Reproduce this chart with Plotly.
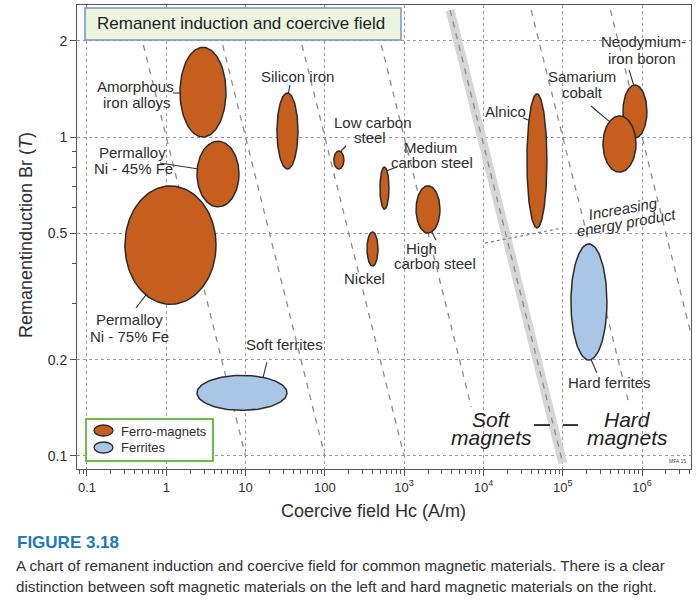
import numpy as np
import plotly.graph_objects as go

# ---------------- data ----------------
materials = ["Amorphous iron alloys", "Permalloy Ni - 45% Fe", "Permalloy Ni - 75% Fe",
             "Silicon iron", "Low carbon steel", "Medium carbon steel", "High carbon steel",
             "Nickel", "Alnico", "Neodymium-iron boron", "Samarium cobalt",
             "Hard ferrites", "Soft ferrites"]
material_class = ["ferro"] * 11 + ["ferrite", "ferrite"]
hc_low = [1.49, 2.44, 0.301, 24.9, 130, 495, 1413, 340, 35400, 575000, 322000, 127000, 2.44]
hc_high = [5.66, 8.26, 4.24, 45.8, 174, 644, 2831, 468, 63200, 1153000, 840000, 361000, 33.3]
br_low = [1.0, 0.604, 0.299, 0.794, 0.794, 0.594, 0.500, 0.394, 0.519, 0.993, 0.776, 0.200, 0.139]
br_high = [1.91, 0.970, 0.702, 1.374, 0.904, 0.805, 0.703, 0.504, 1.365, 1.455, 1.164, 0.462, 0.179]

# label lines (text, Hc, Br)
label_lines = ["Amorphous", "iron alloys", "Permalloy", "Ni - 45% Fe", "Permalloy", "Ni - 75% Fe",
               "Silicon iron", "Low carbon", "steel", "Medium", "carbon steel", "High",
               "carbon steel", "Nickel", "Alnico", "Neodymium-", "iron boron", "Samarium",
               "cobalt", "Hard ferrites", "Soft ferrites"]
label_hc = [0.415, 0.427, 0.380, 0.386, 0.344, 0.348, 45.8, 410, 371, 2181, 2244, 1679,
            2449, 316, 19240, 1.044e6, 1.014e6, 177500, 177500, 394500, 30.97]
label_br = [1.445, 1.287, 0.897, 0.799, 0.267, 0.2377, 1.553, 1.114, 1.0, 0.930, 0.829, 0.448,
            0.401, 0.359, 1.198, 1.99, 1.765, 1.553, 1.374, 0.1694, 0.2244]

# leader lines (from label to ellipse)
leader_hc_from = [1.215, 0.833, 0.415, 36.3, 184.5, 813, 2523, 31550, 227000, 686000, 270000, 18.6]
leader_br_from = [1.374, 0.829, 0.291, 1.455, 0.937, 0.805, 0.475, 1.147, 1.251, 1.622, 0.182, 0.197]
leader_hc_to = [1.55, 2.55, 0.555, 34.3, 151, 590, 2178, 39800, 383000, 793000, 227000, 16.6]
leader_br_to = [1.374, 0.794, 0.320, 1.355, 0.891, 0.782, 0.511, 1.122, 1.122, 1.445, 0.201, 0.176]

# constant energy-product lines  (Br * Hc = const)
energy_products = [1, 10, 100, 1000, 1e5, 1e6]
br_line_top = 2.5
br_line_end = [0.1, 0.1, 0.1, 0.1425, 0.144, 0.1]
band_energy = 9500
band_br = [2.5, 0.095]

increase_hc = [10470, 100000]
increase_br = [0.465, 0.519]

sep_hc = [[43400, 69000], [100700, 155600]]
sep_br = 0.125

x_tickvals = [0.1, 1, 10, 100, 1e3, 1e4, 1e5, 1e6]
x_ticktext = ["0.1", "1", "10", "100", "10<sup>3</sup>", "10<sup>4</sup>", "10<sup>5</sup>", "10<sup>6</sup>"]
y_tickvals = [0.1, 0.2, 0.5, 1, 2]
y_ticktext = ["0.1", "0.2", "0.5", "1", "2"]
y_minor = [0.3, 0.4, 0.6, 0.7, 0.8, 0.9]
x_minor = [m * 10.0 ** k for k in range(-2, 7) for m in range(2, 10)]

# ---------------- styles ----------------
FONT = "Liberation Sans, Arial, Helvetica, sans-serif"
ORANGE = "#C65F1E"
BLUE = "#AAC6E6"
EDGE = "#2b2b2b"
DASHC = "#8c8c8c"
TXT = "#2e2e2e"

fig = go.Figure()

# energy-product lines
for bh, bend in zip(energy_products, br_line_end):
    b = np.array([br_line_top, bend])
    fig.add_trace(go.Scatter(x=bh / b, y=b, mode="lines",
                             line=dict(color=DASHC, width=1.3, dash="6px,6px"),
                             hoverinfo="skip", showlegend=False))
# soft / hard separation band
bb = np.array(band_br)
fig.add_trace(go.Scatter(x=band_energy / bb, y=bb, mode="lines",
                         line=dict(color="#d6d6d6", width=9),
                         hoverinfo="skip", showlegend=False))
fig.add_trace(go.Scatter(x=band_energy / bb, y=bb, mode="lines",
                         line=dict(color="#8a8a8a", width=1.3, dash="6px,6px"),
                         hoverinfo="skip", showlegend=False))
# increasing energy product
fig.add_trace(go.Scatter(x=increase_hc, y=increase_br, mode="lines",
                         line=dict(color="#808080", width=1.2, dash="dot"),
                         hoverinfo="skip", showlegend=False))
# separators
for seg in sep_hc:
    fig.add_trace(go.Scatter(x=seg, y=[sep_br, sep_br], mode="lines",
                             line=dict(color="#333333", width=2),
                             hoverinfo="skip", showlegend=False))
# leader lines
for x0, y0, x1, y1 in zip(leader_hc_from, leader_br_from, leader_hc_to, leader_br_to):
    fig.add_trace(go.Scatter(x=[x0, x1], y=[y0, y1], mode="lines",
                             line=dict(color="#333333", width=1.1),
                             hoverinfo="skip", showlegend=False))

# ellipses
t = np.linspace(0, 2 * np.pi, 121)
for name, cls, h0, h1, b0, b1 in zip(materials, material_class, hc_low, hc_high, br_low, br_high):
    cx = (np.log10(h0) + np.log10(h1)) / 2
    rx = (np.log10(h1) - np.log10(h0)) / 2
    cy = (np.log10(b0) + np.log10(b1)) / 2
    ry = (np.log10(b1) - np.log10(b0)) / 2
    fig.add_trace(go.Scatter(x=10 ** (cx + rx * np.cos(t)), y=10 ** (cy + ry * np.sin(t)),
                             mode="lines", fill="toself",
                             fillcolor=ORANGE if cls == "ferro" else BLUE,
                             line=dict(color=EDGE, width=1.5),
                             name=name, hoverinfo="name", showlegend=False))

annotations = []
for txt, hx, by in zip(label_lines, label_hc, label_br):
    annotations.append(dict(x=np.log10(hx), y=np.log10(by), xref="x", yref="y", text=txt,
                            xanchor="center", yanchor="middle",
                            showarrow=False, font=dict(family=FONT, size=15, color=TXT)))

# increasing energy product text
for txt, hx, by in [("Increasing", 575000, 0.599), ("energy product", 646000, 0.538)]:
    annotations.append(dict(x=np.log10(hx), y=np.log10(by), xref="x", yref="y",
                            xanchor="center", yanchor="middle",
                            text="<i>" + txt + "</i>", textangle=-10, showarrow=False,
                            font=dict(family=FONT, size=15, color=TXT)))
# soft / hard magnets
for txt, hx, by in [("Soft", 12800, 0.1305), ("magnets", 12800, 0.1143),
                    ("Hard", 665000, 0.1305), ("magnets", 665000, 0.1143)]:
    annotations.append(dict(x=np.log10(hx), y=np.log10(by), xref="x", yref="y",
                            xanchor="center", yanchor="middle",
                            text="<i>" + txt + "</i>", showarrow=False,
                            font=dict(family=FONT, size=21, color="#222222")))


# paper-coordinate helpers (plot area 614 x 464 px, starting at 77, 5)
def px(x):
    return (x - 77) / 614.0


def py(y):
    return (469 - y) / 464.0


def paper_text(text, x, y, size, xanchor="left", color=TXT, angle=0, family=FONT):
    return dict(x=px(x), y=py(y), xref="paper", yref="paper", xanchor=xanchor,
                yanchor="middle", text=text, showarrow=False, textangle=angle,
                font=dict(family=family, size=size, color=color))


annotations += [
    paper_text("Remanent induction and coercive field", 95, 24, 17, color="#222222"),
    paper_text("Ferro-magnets", 119, 431, 13),
    paper_text("Ferrites", 119, 447, 13),
    paper_text("MFA 15", 688, 461, 5, xanchor="right", color="#444444"),
    paper_text("Coercive field Hc (A/m)", 373, 511, 18, xanchor="center"),
    paper_text("Remanentinduction Br (<i>T</i>)", 26, 235, 18, xanchor="center", angle=-90),
    paper_text("<b>FIGURE 3.18</b>", 15, 542, 17, color="#1a78bb"),
    paper_text("A chart of remanent induction and coercive field for common magnetic materials. "
               "There is a clear", 14, 565, 15.2, color="#333333"),
    paper_text("distinction between soft magnetic materials on the left and hard magnetic "
               "materials on the right.", 14, 586, 15.2, color="#333333"),
]

shapes = [
    dict(type="rect", xref="paper", yref="paper", x0=px(85), x1=px(401), y0=py(40), y1=py(8),
         fillcolor="#EAF4DF", line=dict(color="#7C94C8", width=1.5), layer="above"),
    dict(type="rect", xref="paper", yref="paper", x0=px(86), x1=px(213), y0=py(461), y1=py(419),
         fillcolor="white", line=dict(color="#6CBD46", width=2), layer="above"),
    dict(type="circle", xref="paper", yref="paper", x0=px(94), x1=px(113), y0=py(436), y1=py(425),
         fillcolor=ORANGE, line=dict(color=EDGE, width=1.3), layer="above"),
    dict(type="circle", xref="paper", yref="paper", x0=px(94), x1=px(113), y0=py(453), y1=py(442),
         fillcolor=BLUE, line=dict(color=EDGE, width=1.3), layer="above"),
]

fig.update_layout(
    width=700, height=611,
    margin=dict(l=77, r=9, t=5, b=142),
    paper_bgcolor="white", plot_bgcolor="white",
    showlegend=False,
    annotations=annotations,
    shapes=shapes,
    font=dict(family=FONT, color=TXT),
)
fig.update_xaxes(type="log", range=[-1.126, 6.618],
                 tickmode="array", tickvals=x_tickvals, ticktext=x_ticktext,
                 tickfont=dict(family=FONT, size=13, color=TXT),
                 ticks="outside", ticklen=6, tickcolor="#555555",
                 showgrid=True, gridcolor="#9a9a9a", griddash="dot", gridwidth=1,
                 showline=True, linecolor="#555555", linewidth=1, mirror=True, zeroline=False,
                 minor=dict(tickmode="array", tickvals=x_minor, ticks="outside", ticklen=4,
                            tickcolor="#555555", showgrid=False))
fig.update_yaxes(type="log", range=[-1.0408, 0.4138],
                 tickmode="array", tickvals=y_tickvals, ticktext=y_ticktext,
                 tickfont=dict(family=FONT, size=14, color=TXT),
                 ticks="outside", ticklen=6, tickcolor="#555555",
                 showgrid=True, gridcolor="#9a9a9a", griddash="dot", gridwidth=1,
                 showline=True, linecolor="#555555", linewidth=1, mirror=True, zeroline=False,
                 minor=dict(tickmode="array", tickvals=y_minor, ticks="outside", ticklen=4,
                            tickcolor="#555555", showgrid=False))

fig.write_html("out.html", config={"displayModeBar": False},
               post_script="document.body.style.margin='0px';")
